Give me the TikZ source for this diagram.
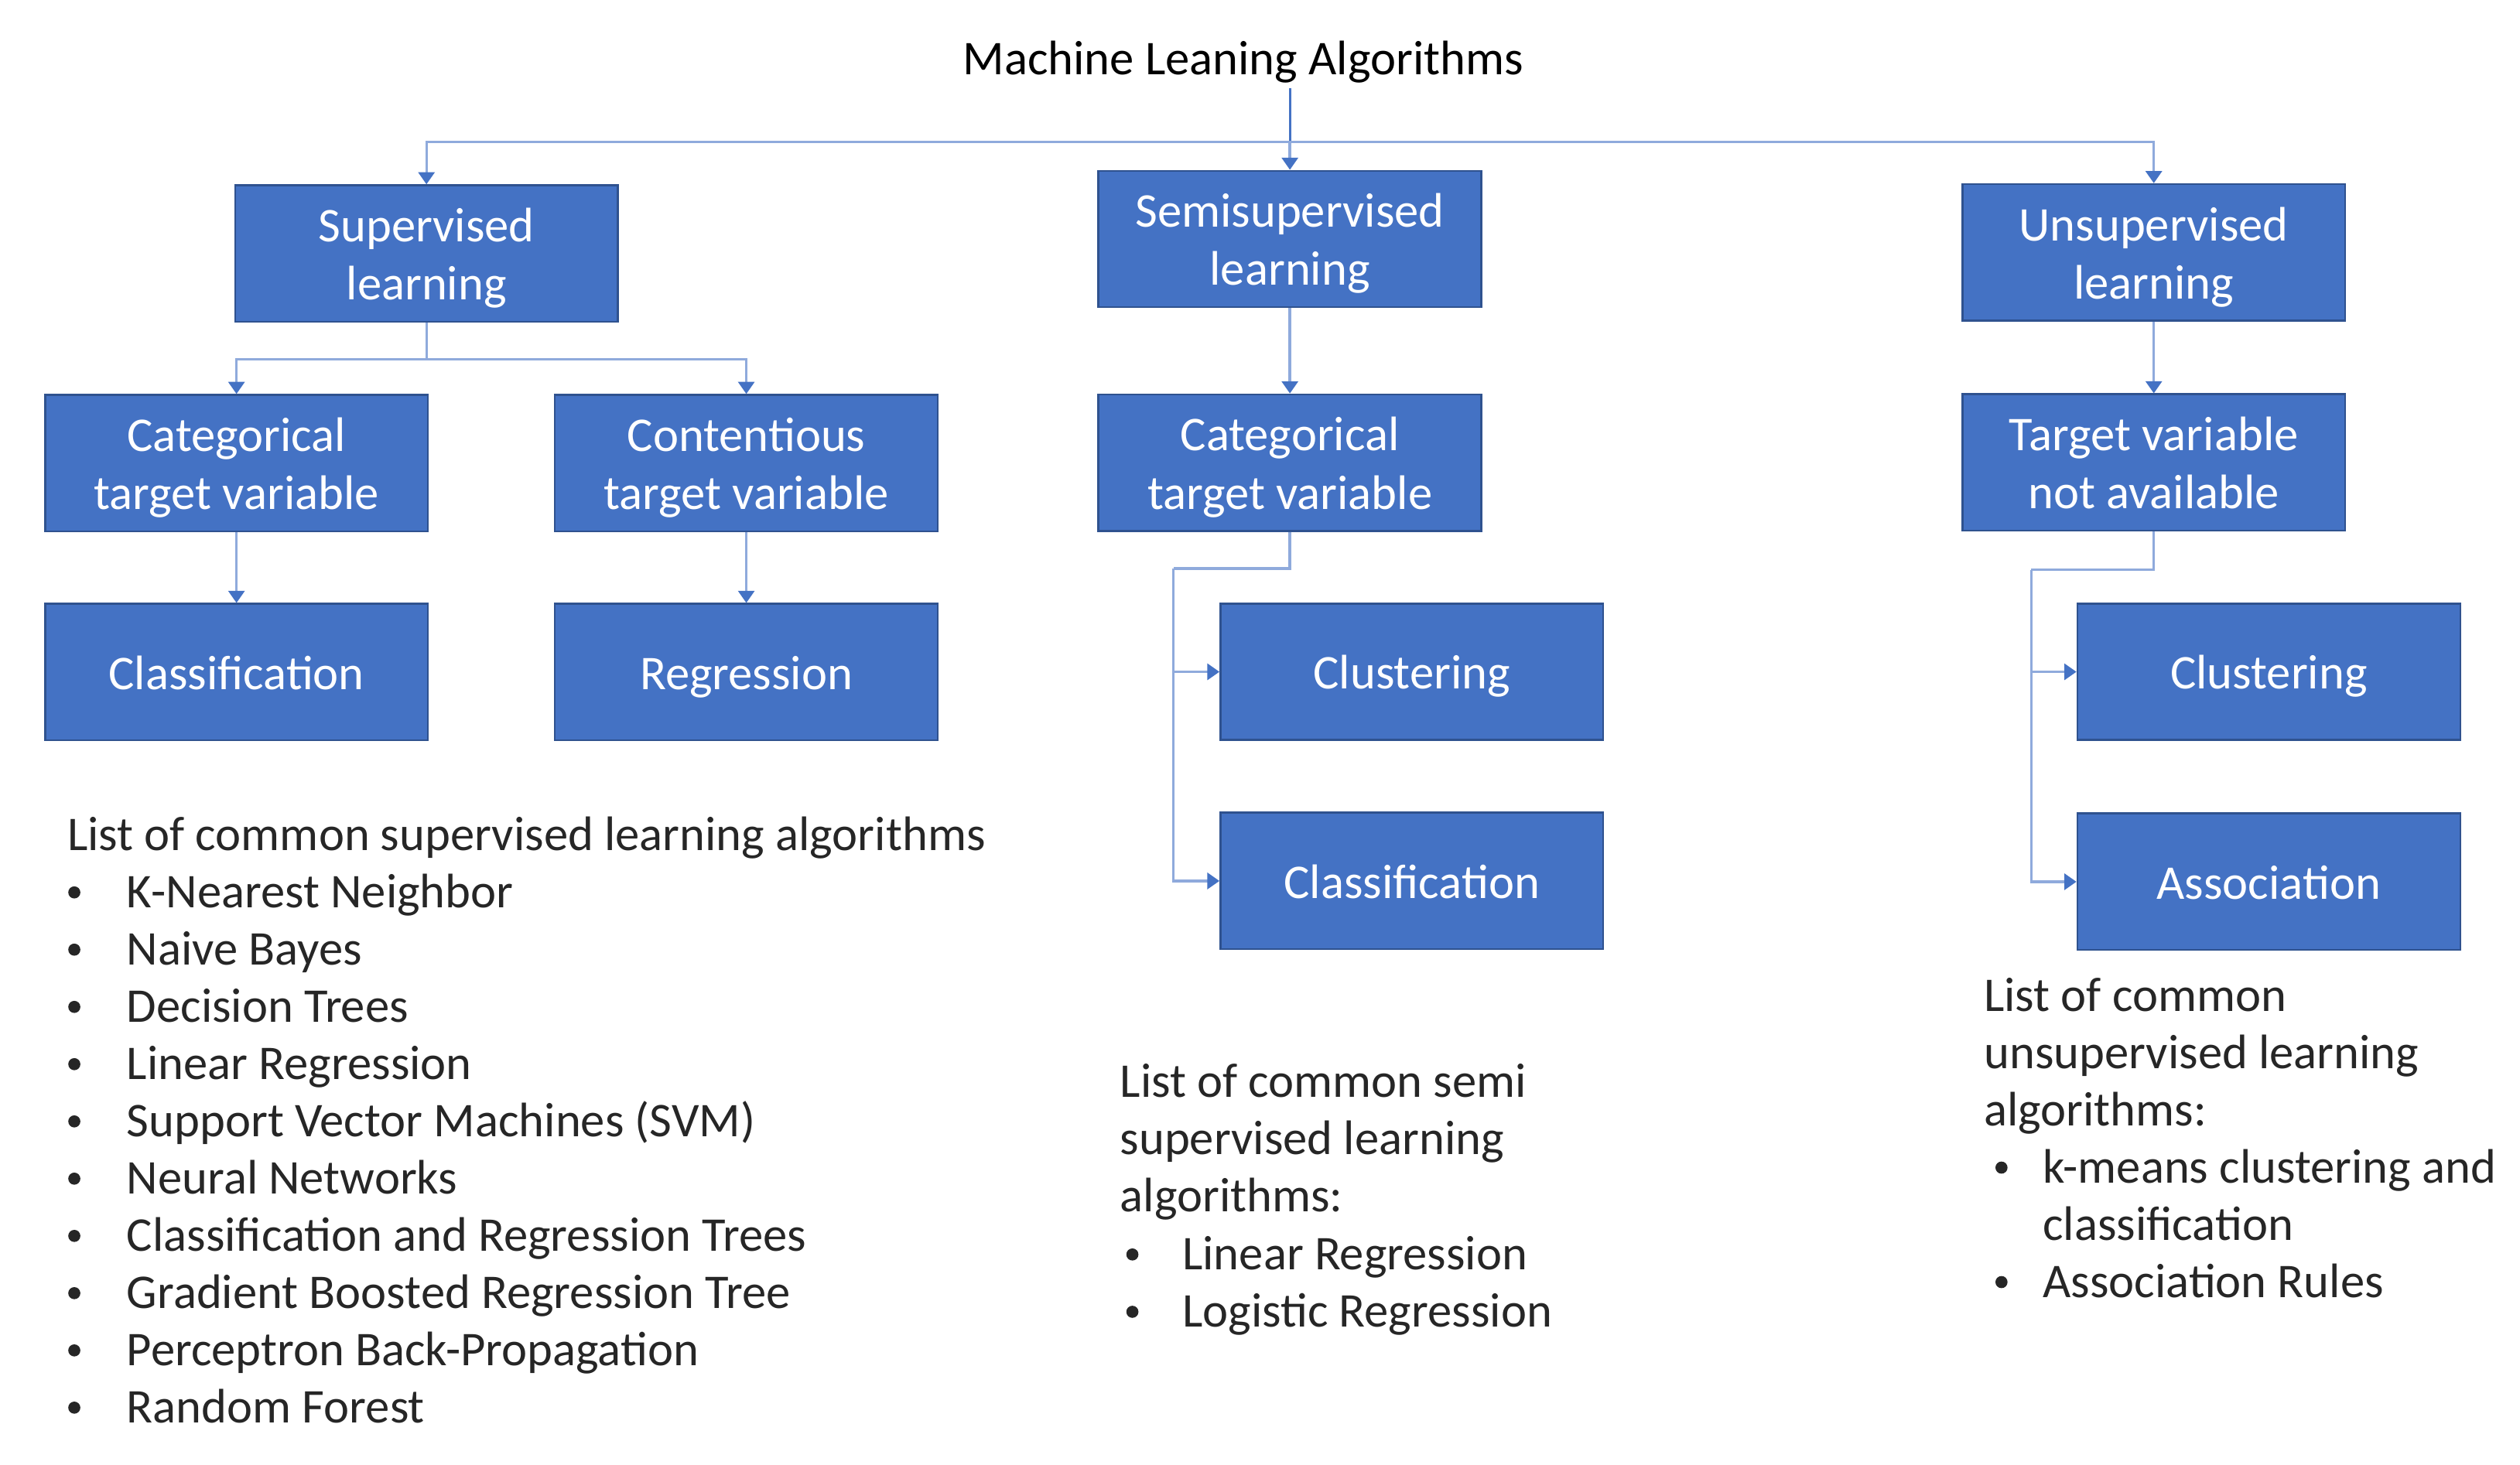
\documentclass[tikz,border=0pt]{standalone}
\usepackage{fontspec}
\setmainfont{Carlito}
\usetikzlibrary{arrows.meta}
\definecolor{boxblue}{HTML}{4472C4}
\definecolor{boxedge}{HTML}{2F528F}
\definecolor{linkblue}{HTML}{8FAADC}
\definecolor{txtgray}{HTML}{262626}
\newcommand{\mlbox}[3]{%
  \node[box] (#1) at (#2) {};
  \node[boxtext] (#1-t) at ([yshift=-3.5pt]#1.center) {#3};}
\begin{document}
\begin{tikzpicture}[x=1pt,y=-1pt,
  box/.style={draw=boxedge, line width=1.2pt, fill=boxblue,
    minimum width=237pt, minimum height=84.5pt, inner sep=0pt},
  boxtext/.style={text=white, align=center, inner sep=0pt,
    font=\fontsize{30}{36}\selectfont},
  link/.style={draw=linkblue, line width=1.6pt},
  arr/.style={link, -{Triangle[length=7.5pt,width=10pt,color=boxblue]}},
  lst/.style={anchor=base west, inner sep=0pt, text=txtgray,
    font=\fontsize{30}{36}\selectfont},
  dot/.style={circle, fill=txtgray, minimum size=7.5pt, inner sep=0pt}]
\useasboundingbox (0,0) rectangle (1560,906.7);

% title
\node[anchor=base, inner sep=3pt, font=\fontsize{30}{36}\selectfont, text=black] (title) at (769.6,46.2) {Machine Leaning Algorithms};

% boxes
\mlbox{sup}{264,157}{\strut Supervised\\\strut learning}
\mlbox{semi}{798.5,148}{\strut Semisupervised\\\strut learning}
\mlbox{unsup}{1333.3,156.3}{\strut Unsupervised\\\strut learning}
\mlbox{cat1}{146.4,286.8}{\strut Categorical\\\strut target variable}
\mlbox{cont}{462,286.8}{\strut Contentious\\\strut target variable}
\mlbox{class1}{146.4,416.2}{\strut Classification}
\mlbox{reg}{462,416.2}{\strut Regression}
\mlbox{semicat}{798.5,286.5}{\strut Categorical\\\strut target variable}
\mlbox{clust1}{874,416}{\strut Clustering}
\mlbox{class2}{874,545.5}{\strut Classification}
\mlbox{target}{1333.3,286.4}{\strut Target variable\\\strut not available}
\mlbox{clust2}{1404.5,416}{\strut Clustering}
\mlbox{assoc}{1404.5,546}{\strut Association}

% junctions
\coordinate (jn) at (798.5,88);
\coordinate (sj) at (264,222.4);
\coordinate (mj) at (726.4,352);
\coordinate (uj) at (1257.5,352.8);

% connectors
\draw[draw=boxblue, line width=1.3pt] (title.south -| semi.north) -- (jn);
\draw[arr] (jn) -- (semi.north);
\draw[arr] (jn) -| (sup.north);
\draw[arr] (jn) -| (unsup.north);

\draw[link] (sup.south) -- (sj);
\draw[arr] (sj) -| (cat1.north);
\draw[arr] (sj) -| (cont.north);
\draw[arr] (cat1.south) -- (class1.north);
\draw[arr] (cont.south) -- (reg.north);

\draw[arr] (semi.south) -- (semicat.north);
\draw[link] (semicat.south) |- (mj);
\draw[arr] (mj) |- (clust1.west);
\draw[arr] (mj) |- (class2.west);

\draw[arr] (unsup.south) -- (target.north);
\draw[link] (target.south) |- (uj);
\draw[arr] (uj) |- (clust2.west);
\draw[arr] (uj) |- (assoc.west);

% supervised list
\node[lst] (sl0) at (41.5,526.7) {List of common supervised learning algorithms};
\foreach \t [count=\i] in {K-Nearest Neighbor, Naive Bayes, Decision Trees, Linear Regression,
  Support Vector Machines (SVM), Neural Networks, Classification and Regression Trees,
  Gradient Boosted Regression Tree, Perceptron Back-Propagation, Random Forest}{
  \node[dot] (sb\i) at (46,{552.6+35.45*(\i-1)}) {};
  \node[lst] (st\i) at (78.3,{562.1+35.45*(\i-1)}) {\t};
}

% semi-supervised list
\node[lst] (ml1) at (693.2,679.4) {List of common semi};
\node[lst] (ml2) at (693.2,714.9) {supervised learning};
\node[lst] (ml3) at (693.2,750.3) {algorithms:};
\node[dot] (mb1) at (701,776.8) {};
\node[lst] (mt1) at (731.8,786.3) {Linear Regression};
\node[dot] (mb2) at (701,812.3) {};
\node[lst] (mt2) at (731.8,821.8) {Logistic Regression};

% unsupervised list
\node[lst] (ul1) at (1228,626.2) {List of common};
\node[lst] (ul2) at (1228,661.6) {unsupervised learning};
\node[lst] (ul3) at (1228,697.1) {algorithms:};
\node[dot] (ub1) at (1239,723) {};
\node[lst] (ut1) at (1264.5,732.5) {k-means clustering and};
\node[lst] (ut2) at (1264.5,768.0) {classification};
\node[dot] (ub2) at (1239,793.9) {};
\node[lst] (ut3) at (1264.5,803.4) {Association Rules};
\end{tikzpicture}
\end{document}
